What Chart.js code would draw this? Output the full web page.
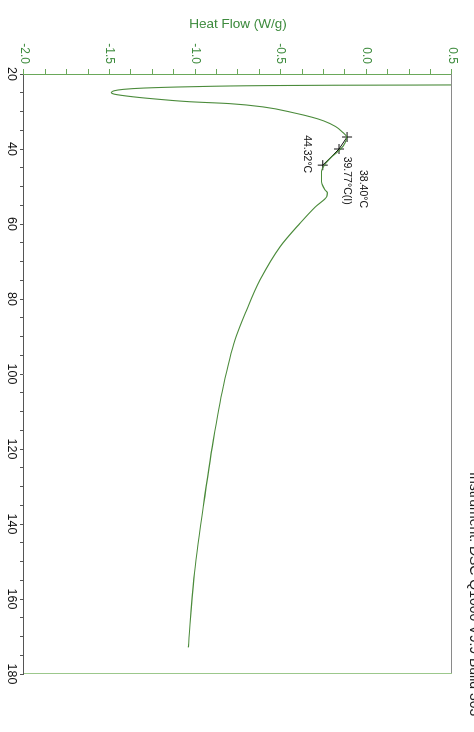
<!DOCTYPE html>
<html>
<head>
<meta charset="utf-8">
<script src="https://cdn.jsdelivr.net/npm/chart.js@4/dist/chart.umd.min.js"></script>
<style>
  html, body { margin: 0; padding: 0; background: #fff; overflow: hidden; }
  body { width: 474px; height: 732px; position: relative; }
  /* the plot is laid out landscape and turned a quarter clockwise */
  #turn { position: absolute; left: 0; top: 0; width: 732px; height: 474px;
          transform-origin: 0 0; transform: translate(474px, 0) rotate(90deg); }
</style>
</head>
<body>
<div id="turn"><canvas id="dscChart"></canvas></div>
<script>
const tempC = [22.9, 22.95, 23.0, 23.1, 23.4, 23.75, 24.1, 24.5, 24.9, 25.4,
  26.1, 26.8, 27.4, 27.9, 28.8, 30.4, 31.5, 32.5, 34.0, 35.5,
  36.8, 38.4, 40.0, 42.0, 44.3, 46.0, 48.7, 50.9, 51.7, 52.7,
  55.5, 59.8, 66.1, 74.9, 82.9, 90.9, 103.4, 117.6, 135.4, 154.5, 172.9];
const heatFlow = [0.6, 0.3, -0.2, -0.6, -1.03, -1.30, -1.42, -1.475, -1.49, -1.47,
  -1.36, -1.20, -1.03, -0.80, -0.60, -0.42, -0.32, -0.25, -0.18, -0.14,
  -0.115, -0.125, -0.15, -0.20, -0.245, -0.262, -0.262, -0.242, -0.228, -0.232,
  -0.30, -0.388, -0.505, -0.621, -0.699, -0.767, -0.836, -0.894, -0.953, -1.008, -1.040];

// glass transition markers (onset, midpoint, end)
const markerT = [36.8, 40.0, 44.3];
const markerHF = [-0.113, -0.16, -0.255];

// labels and where they sit (temperature of text start, heat flow of text centre)
const noteTexts = ["38.40°C", "39.77°C(I)", "44.32°C"];
const noteT = [45.6, 42.05, 36.3];
const noteHF = [-0.02, -0.115, -0.349];

const instrumentText = "Instrument: DSC Q1000 V9.9 Build 303";

const FONT = "'Liberation Sans', Arial, sans-serif";
const GREEN = "#3d8b3d";

const frame = {
  id: "frame",
  afterDraw(chart) {
    const { ctx, chartArea: a } = chart;
    ctx.save();
    ctx.lineWidth = 1;
    ctx.strokeStyle = "#8a8a8a";
    ctx.beginPath();
    ctx.moveTo(a.left, a.top + 0.5);
    ctx.lineTo(a.right, a.top + 0.5);
    ctx.stroke();
    ctx.strokeStyle = "#9cc88c";
    ctx.beginPath();
    ctx.moveTo(a.right - 0.5, a.top);
    ctx.lineTo(a.right - 0.5, a.bottom);
    ctx.stroke();

    // annotation texts
    const x = chart.scales.x, y = chart.scales.y;
    ctx.fillStyle = "#111";
    ctx.font = "10.5px " + FONT;
    ctx.textAlign = "left";
    ctx.textBaseline = "middle";
    noteTexts.forEach((t, i) => {
      ctx.fillText(t, x.getPixelForValue(noteT[i]), y.getPixelForValue(noteHF[i]));
    });

    // instrument line, cut off by the page edge
    ctx.font = "14px " + FONT;
    ctx.textBaseline = "alphabetic";
    ctx.fillStyle = "#222";
    ctx.fillText(instrumentText, 472, 3.5);
    ctx.restore();
  }
};

new Chart(document.getElementById("dscChart"), {
  type: "line",
  data: {
    datasets: [
      {
        data: tempC.map((t, i) => ({ x: t, y: heatFlow[i] })),
        borderColor: "#4b8b3b",
        borderWidth: 1.1,
        pointRadius: 0,
        cubicInterpolationMode: "monotone",
      },
      {
        data: markerT.map((t, i) => ({ x: t, y: markerHF[i] })),
        borderColor: "#111",
        borderWidth: 1,
        pointStyle: "cross",
        pointRadius: 5,
        pointBorderColor: "#111",
        pointBorderWidth: 1,
      },
    ],
  },
  options: {
    responsive: true,
    maintainAspectRatio: false,
    animation: false,
    layout: { padding: { top: 22, right: 58, left: 0, bottom: 0 } },
    plugins: { legend: { display: false }, tooltip: { enabled: false } },
    scales: {
      x: {
        type: "linear",
        min: 20,
        max: 180,
        afterFit: (s) => { s.height = 24; },
        border: { color: "#555", width: 1 },
        grid: { drawOnChartArea: false, tickLength: 4, tickColor: "#555" },
        ticks: {
          stepSize: 5,
          autoSkip: false,
          maxRotation: 0,
          padding: 1,
          color: "#111",
          font: { family: FONT, size: 12.5 },
          callback: (v) => (v % 20 === 0 ? String(v) : ""),
        },
      },
      y: {
        min: -2,
        max: 0.5,
        afterFit: (s) => { s.width = 74; },
        border: { color: "#6aa85a", width: 1 },
        grid: { drawOnChartArea: false, tickLength: 5, tickColor: "#6aa85a" },
        title: {
          display: true,
          text: "Heat Flow (W/g)",
          color: GREEN,
          font: { family: FONT, size: 13.5 },
          padding: { top: 16, bottom: 0 },
        },
        ticks: {
          stepSize: 0.125,
          autoSkip: false,
          padding: 5,
          color: GREEN,
          font: { family: FONT, size: 12 },
          callback: (v) => {
            const h = v * 2;
            return Math.abs(h - Math.round(h)) < 1e-6 ? v.toFixed(1) : "";
          },
        },
      },
    },
  },
  plugins: [frame],
});
</script>
</body>
</html>
